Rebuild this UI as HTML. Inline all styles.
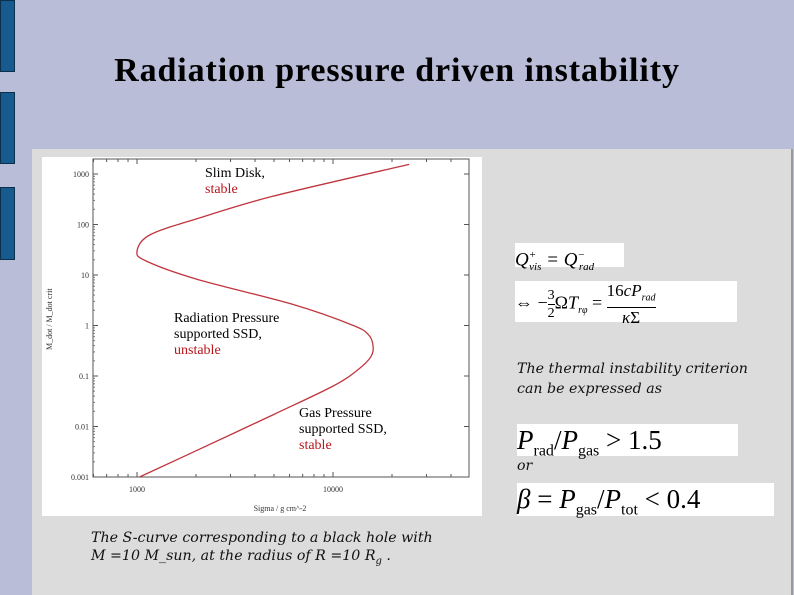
<!DOCTYPE html>
<html><head><meta charset="utf-8"><style>
body{margin:0;width:794px;height:595px;overflow:hidden;background:#b9bdd8;position:relative;font-family:"Liberation Serif",serif}
.abs{position:absolute}
.bar{position:absolute;left:0;width:13px;background:#165a8e;border:1px solid #0c2f4e}
.eq{position:absolute;background:#fff;font-family:"Liberation Serif",serif;color:#000;white-space:nowrap}
.it{font-style:italic;font-size:14.2px;color:#111;font-family:"DejaVu Serif","Liberation Serif",serif}
.fr{display:inline-block;vertical-align:middle;text-align:center}
.fr>span{display:block}
</style></head><body>
<div class="bar" style="top:0;height:70px"></div>
<div class="bar" style="top:92px;height:70px"></div>
<div class="bar" style="top:187px;height:71px"></div>
<div class="abs" style="left:0;width:794px;top:52px;text-align:center;font-size:34px;font-weight:bold;letter-spacing:0.9px">Radiation pressure driven instability</div>
<div class="abs" style="left:32px;top:149px;width:759px;height:446px;background:#dcdcdc;border-right:2px solid #999"></div>
<svg class="abs" style="left:42px;top:157px" width="440" height="359" viewBox="42 157 440 359">
<rect x="42" y="157" width="440" height="359" fill="#fff"/>
<g id="axes"></g>
<path id="curve" fill="none" stroke="#c0363f" stroke-width="1.3"/>
<text x="52" y="350" font-size="8" transform="rotate(-90 52 350)" fill="#333">M_dot / M_dot crit</text>
<text x="280" y="511" font-size="8" fill="#333" text-anchor="middle">Sigma / g cm^-2</text>
<g font-size="14" font-family="Liberation Serif,serif">
<text x="205" y="177">Slim Disk,</text>
<text x="205" y="193" fill="#b8141b">stable</text>
<text x="174" y="322">Radiation Pressure</text>
<text x="174" y="338">supported SSD,</text>
<text x="174" y="354" fill="#b8141b">unstable</text>
<text x="299" y="417">Gas Pressure</text>
<text x="299" y="433">supported SSD,</text>
<text x="299" y="449" fill="#b8141b">stable</text>
</g>
</svg>
<div class="abs it" style="left:91px;top:529px;line-height:18px">The S-curve corresponding to a black hole with<br>M =10 M_sun, at the radius of R =10 R<sub style="font-size:10px">g</sub> .</div>
<div class="eq" style="left:515px;top:243px;width:109px;height:24px;font-size:19px;font-style:italic;line-height:24px">Q<sup style="font-size:11px">+</sup><sub style="font-size:11px;margin-left:-7px">vis</sub> = Q<sup style="font-size:11px">−</sup><sub style="font-size:11px;margin-left:-6px">rad</sub></div>
<div class="eq" style="left:515px;top:281px;width:222px;height:41px;font-size:18px;line-height:41px">⇔ −<span class="fr" style="font-size:14px;line-height:17px"><span style="border-bottom:1px solid #000">3</span><span>2</span></span>Ω<i>T</i><sub style="font-size:10px"><i>rφ</i></sub> = <span class="fr" style="line-height:19px;font-size:17px"><span style="border-bottom:1px solid #000">16<i>cP<sub style="font-size:10px">rad</sub></i></span><span><i>κ</i>Σ</span></span></div>
<div class="abs it" style="left:517px;top:359px;line-height:20px">The thermal instability criterion<br>can be expressed as</div>
<div class="eq" style="left:517px;top:424px;width:221px;height:32px;font-size:27px;line-height:32px"><i>P</i><sub style="font-size:16px">rad</sub>/<i>P</i><sub style="font-size:16px">gas</sub> &gt; 1.5</div>
<div class="abs it" style="left:517px;top:458px">or</div>
<div class="eq" style="left:517px;top:483px;width:257px;height:33px;font-size:27px;line-height:33px"><i>β</i> = <i>P</i><sub style="font-size:16px">gas</sub>/<i>P</i><sub style="font-size:16px">tot</sub> &lt; 0.4</div>
<script>
const sigma=[1030,2000,5000,10000,13300,15600,16000,15200,12700,6270,2010,1120,1000,1170,2090,4900,24500];
const mdot=[0.001,0.0033,0.0174,0.063,0.13,0.24,0.4,0.65,1,2.6,8.3,18.7,29.5,63,135,360,1550];
const yTicks=[1000,100,10,1,0.1,0.01,0.001];
const yTickLabels=["1000","100","10","1","0.1","0.01","0.001"];
const xTicks=[1000,10000];
const xTickLabels=["1000","10000"];
const X0=93,X1=469,Y0=159,Y1=477;
const xs=v=>137+(Math.log10(v)-3)*196;
const ys=v=>477-(Math.log10(v)+3)*50.5;
const NS="http://www.w3.org/2000/svg";
const ax=document.getElementById('axes');
function mk(t,a){const e=document.createElementNS(NS,t);for(const k in a)e.setAttribute(k,a[k]);ax.appendChild(e);return e;}
const fr=mk('rect',{x:X0,y:Y0,width:X1-X0,height:Y1-Y0,fill:'none',stroke:'#555','stroke-width':1});


yTicks.forEach((v,i)=>{const y=ys(v);
mk('line',{x1:X0,x2:X0+5,y1:y,y2:y,stroke:'#555'});mk('line',{x1:X1-5,x2:X1,y1:y,y2:y,stroke:'#555'});
for(let m=2;m<10&&i>0;m++){const yy=ys(v*m);mk('line',{x1:X0,x2:X0+2,y1:yy,y2:yy,stroke:'#777'});}
const t=mk('text',{x:X0-4,y:y+3,'font-size':8,'text-anchor':'end',fill:'#333'});t.textContent=yTickLabels[i];

});
for(let d=100;d<=100000;d*=10)for(let m=1;m<10;m++){const x=xs(d*m);if(x<X0||x>X1)continue;const L=m==1?5:3;
mk('line',{x1:x,x2:x,y1:Y1,y2:Y1-L,stroke:'#555'});mk('line',{x1:x,x2:x,y1:Y0,y2:Y0+L,stroke:'#555'});}
xTicks.forEach((v,i)=>{const t=mk('text',{x:xs(v),y:Y1+15,'font-size':8,'text-anchor':'middle',fill:'#333'});t.textContent=xTickLabels[i];

});
const P=sigma.map((s,i)=>[xs(s),ys(mdot[i])]);
let d='M'+P[0][0]+','+P[0][1];
for(let i=0;i<P.length-1;i++){const p0=P[i-1]||P[i],p1=P[i],p2=P[i+1],p3=P[i+2]||P[i+1];
d+=` C${p1[0]+(p2[0]-p0[0])/6},${p1[1]+(p2[1]-p0[1])/6} ${p2[0]-(p3[0]-p1[0])/6},${p2[1]-(p3[1]-p1[1])/6} ${p2[0]},${p2[1]}`;}
document.getElementById('curve').setAttribute('d',d);
</script>
</body></html>
